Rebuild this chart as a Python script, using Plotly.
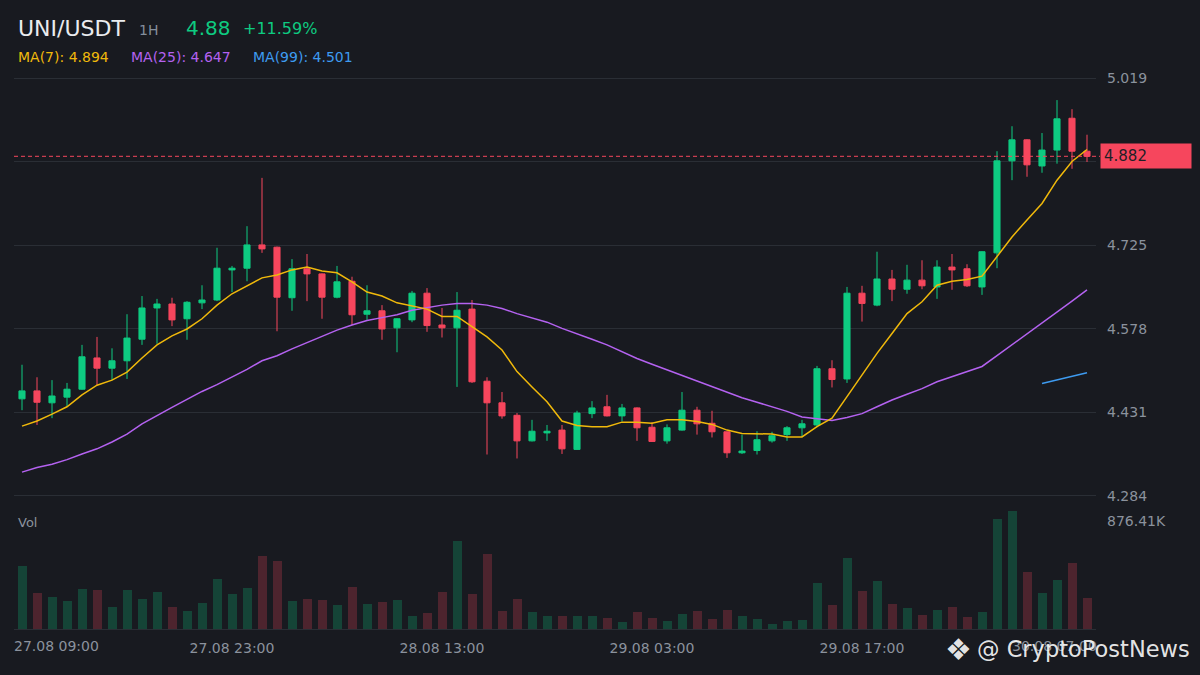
import pandas as pd
import plotly.graph_objects as go

# hourly candles, 27.08 09:00 .. 30.08 08:00
times = pd.date_range("2024-08-27 09:00", periods=72, freq="h")

opens = [4.455, 4.469, 4.448, 4.458, 4.472, 4.527, 4.509, 4.522, 4.560, 4.615,
         4.622, 4.596, 4.624, 4.629, 4.682, 4.685, 4.726, 4.722, 4.633, 4.684,
         4.675, 4.634, 4.662, 4.604, 4.610, 4.580, 4.594, 4.641, 4.585, 4.580,
         4.613, 4.486, 4.448, 4.426, 4.381, 4.395, 4.400, 4.366, 4.429, 4.441,
         4.425, 4.439, 4.405, 4.381, 4.400, 4.435, 4.412, 4.397, 4.360, 4.364,
         4.381, 4.392, 4.404, 4.409, 4.508, 4.490, 4.641, 4.620, 4.666, 4.648,
         4.664, 4.652, 4.687, 4.684, 4.652, 4.712, 4.874, 4.911, 4.865, 4.893,
         4.949, 4.891]
highs = [4.515, 4.493, 4.488, 4.483, 4.550, 4.564, 4.544, 4.604, 4.636, 4.631,
         4.633, 4.627, 4.655, 4.721, 4.689, 4.759, 4.844, 4.723, 4.701, 4.710,
         4.676, 4.689, 4.670, 4.655, 4.620, 4.597, 4.645, 4.650, 4.615, 4.643,
         4.629, 4.493, 4.467, 4.430, 4.418, 4.409, 4.409, 4.434, 4.451, 4.462,
         4.446, 4.440, 4.414, 4.410, 4.467, 4.441, 4.434, 4.397, 4.392, 4.398,
         4.397, 4.407, 4.418, 4.513, 4.523, 4.652, 4.654, 4.714, 4.682, 4.691,
         4.699, 4.699, 4.710, 4.692, 4.715, 4.891, 4.935, 4.912, 4.923, 4.981,
         4.965, 4.920]
lows = [4.435, 4.409, 4.421, 4.442, 4.471, 4.479, 4.488, 4.490, 4.550, 4.552,
        4.583, 4.559, 4.613, 4.627, 4.643, 4.662, 4.712, 4.574, 4.610, 4.627,
        4.596, 4.632, 4.585, 4.594, 4.559, 4.537, 4.590, 4.573, 4.563, 4.476,
        4.483, 4.357, 4.420, 4.350, 4.380, 4.381, 4.358, 4.365, 4.421, 4.424,
        4.415, 4.381, 4.379, 4.376, 4.399, 4.392, 4.387, 4.351, 4.358, 4.357,
        4.378, 4.381, 4.388, 4.405, 4.475, 4.483, 4.591, 4.618, 4.627, 4.640,
        4.648, 4.631, 4.647, 4.652, 4.638, 4.685, 4.840, 4.846, 4.853, 4.869,
        4.860, 4.872]
closes = [4.469, 4.449, 4.460, 4.472, 4.529, 4.509, 4.522, 4.562, 4.615, 4.622,
          4.594, 4.625, 4.629, 4.685, 4.685, 4.726, 4.719, 4.634, 4.684, 4.675,
          4.634, 4.661, 4.603, 4.610, 4.578, 4.596, 4.641, 4.584, 4.580, 4.611,
          4.485, 4.448, 4.425, 4.381, 4.398, 4.398, 4.367, 4.430, 4.439, 4.425,
          4.439, 4.404, 4.380, 4.404, 4.435, 4.411, 4.397, 4.360, 4.363, 4.383,
          4.390, 4.404, 4.411, 4.508, 4.489, 4.641, 4.623, 4.666, 4.648, 4.664,
          4.654, 4.687, 4.682, 4.654, 4.714, 4.874, 4.911, 4.867, 4.893, 4.948,
          4.891, 4.882]

ma7 = [4.407, 4.416, 4.428, 4.441, 4.462, 4.479, 4.488, 4.502, 4.527, 4.550,
       4.566, 4.578, 4.596, 4.620, 4.640, 4.654, 4.668, 4.673, 4.682, 4.687,
       4.680, 4.677, 4.661, 4.643, 4.636, 4.624, 4.619, 4.613, 4.600, 4.600,
       4.582, 4.564, 4.541, 4.503, 4.476, 4.450, 4.416, 4.408, 4.406, 4.406,
       4.414, 4.414, 4.412, 4.418, 4.418, 4.415, 4.410, 4.400, 4.394, 4.394,
       4.393, 4.388, 4.388, 4.406, 4.421, 4.459, 4.497, 4.535, 4.570, 4.605,
       4.626, 4.655, 4.662, 4.665, 4.671, 4.705, 4.740, 4.770, 4.799, 4.840,
       4.873, 4.894]
ma25 = [4.326, 4.334, 4.340, 4.348, 4.358, 4.367, 4.379, 4.393, 4.411, 4.426,
        4.440, 4.454, 4.468, 4.480, 4.493, 4.507, 4.522, 4.531, 4.543, 4.554,
        4.566, 4.576, 4.585, 4.593, 4.598, 4.603, 4.611, 4.616, 4.620, 4.623,
        4.623, 4.620, 4.614, 4.605, 4.597, 4.590, 4.579, 4.570, 4.560, 4.550,
        4.538, 4.526, 4.516, 4.506, 4.496, 4.486, 4.476, 4.466, 4.457, 4.449,
        4.441, 4.433, 4.423, 4.420, 4.417, 4.422, 4.429, 4.441, 4.453, 4.463,
        4.473, 4.485, 4.494, 4.502, 4.512, 4.531, 4.550, 4.570, 4.589, 4.608,
        4.627, 4.647]
ma99 = [None] * 68 + [4.482, 4.488, 4.495, 4.501]

volumes = [510, 291, 259, 227, 324, 316, 178, 316, 243, 299,
           178, 146, 210, 405, 283, 332, 591, 550, 227, 243,
           235, 194, 340, 202, 218, 235, 105, 129, 299, 712,
           283, 607, 146, 243, 138, 105, 105, 105, 105, 89,
           57, 138, 89, 65, 121, 146, 81, 154, 105, 81,
           40, 65, 73, 372, 194, 574, 307, 388, 202, 170,
           113, 154, 178, 97, 138, 890, 955, 461, 291, 396,
           534, 251]  # thousands
volumes = [v * 1000 for v in volumes]

price_ticks = [4.284, 4.431, 4.578, 4.725, 4.872, 5.019]
vol_tick = 876410
last_price = 4.882

BG = "#181a20"
GREEN = "#0ecb81"
RED = "#f6465d"
C_MA7 = "#f0b90b"
C_MA25 = "#b462f0"
C_MA99 = "#3e9bf0"
GREY = "#8b929d"
FONT = "DejaVu Sans"

vol_colors = ["rgba(14,203,129,0.24)" if c >= o else "rgba(246,70,93,0.24)"
              for o, c in zip(opens, closes)]

hour = pd.Timedelta(hours=1)
xrange = [times[0] - 0.533 * hour, times[0] + 71.6 * hour]

fig = go.Figure()
fig.add_trace(go.Candlestick(
    x=times, open=opens, high=highs, low=lows, close=closes,
    increasing=dict(line=dict(color=GREEN, width=1), fillcolor=GREEN),
    decreasing=dict(line=dict(color=RED, width=1), fillcolor=RED),
    whiskerwidth=0, showlegend=False, hoverinfo="skip"))
for ys, col in [(ma25, C_MA25), (ma7, C_MA7), (ma99, C_MA99)]:
    fig.add_trace(go.Scatter(x=times, y=ys, mode="lines",
                             line=dict(color=col, width=1.5),
                             showlegend=False, hoverinfo="skip"))
fig.add_trace(go.Bar(x=times, y=volumes, marker=dict(color=vol_colors, line_width=0),
                     width=0.6 * 3600 * 1000, xaxis="x2", yaxis="y2",
                     showlegend=False, hoverinfo="skip"))

# pixel helpers for the overlay text
L, R, T, B = 14, 1096, 66, 629
def px(X):
    return (X - L) / (R - L)
def py(Y):
    return (B - Y) / (B - T)

fig.add_shape(type="line", xref="paper", yref="y", x0=0, x1=px(1100),
              y0=last_price, y1=last_price, line=dict(color=RED, width=1, dash="4px,3px"))

ann = []
def txt(X, Y, s, size, color, anchor="left"):
    ann.append(dict(x=px(X), y=py(Y), xref="paper", yref="paper", text=s, showarrow=False,
                    xanchor=anchor, yanchor="middle", font=dict(family=FONT, size=size, color=color)))

txt(16, 28, "UNI/USDT", 22, "#eaecef")
txt(137, 30, "1H", 14, "#848e9c")
txt(184, 28, "4.88", 20, GREEN)
txt(241, 29, "+11.59%", 16, GREEN)
txt(16, 57, "MA(7): 4.894", 14, C_MA7)
txt(129, 57, "MA(25): 4.647", 14, C_MA25)
txt(251, 57, "MA(99): 4.501", 14, C_MA99)
txt(16, 522, "Vol", 13, GREY)
txt(12, 646, times[0].strftime("%d.%m %H:%M"), 14, GREY)
txt(1099, 646, times[70].strftime("%d.%m %H:%M"), 14, GREY, anchor="right")
# watermark drawn over the last date label, as in the source image
txt(958, 649, "❖", 30, "rgba(255,255,255,0.9)", anchor="center")
txt(975, 649, "@ CryptoPostNews", 22.5, "rgba(255,255,255,0.9)")

ann.append(dict(x=px(1100), y=last_price, xref="paper", yref="y", text="4.882",
                showarrow=False, xanchor="left", yanchor="middle", align="left",
                bgcolor=RED, width=84, height=18, borderpad=3,
                font=dict(family=FONT, size=15, color="#1e2026")))

fig.update_layout(
    width=1200, height=675,
    margin=dict(l=L, r=1200 - R, t=T, b=675 - B),
    paper_bgcolor=BG, plot_bgcolor=BG,
    font=dict(family=FONT, size=14, color=GREY),
    boxgap=0.42,
    bargap=0,
    showlegend=False,
    annotations=ann,
    xaxis=dict(domain=[0, 1], anchor="y", range=xrange, type="date",
               rangeslider=dict(visible=False), showticklabels=False,
               showgrid=False, zeroline=False),
    yaxis=dict(domain=[(B - 505) / (B - T), 1], anchor="x", side="right",
               range=[4.2681, 5.0410], tickvals=price_ticks,
               # the 4.872 label sits under the last-price box
               ticktext=["" if v == 4.872 else f"{v:.3f}" for v in price_ticks],
               gridcolor="#2a2e35", gridwidth=1, zeroline=False,
               ticks="", ticklabelstandoff=10, tickfont=dict(size=14, color=GREY)),
    xaxis2=dict(domain=[0, 1], anchor="y2", range=xrange, type="date", matches="x",
                tickvals=[times[14], times[28], times[42], times[56]],
                tickformat="%d.%m %H:%M", showgrid=False, zeroline=False,
                showline=True, linecolor="#2a2e35", linewidth=1,
                ticks="", ticklabelstandoff=6, tickfont=dict(size=14, color=GREY)),
    yaxis2=dict(domain=[0, (B - 508) / (B - T)], anchor="x2", side="right",
                range=[0, 982000], tickvals=[vol_tick], ticktext=["876.41K"],
                showgrid=False, zeroline=False, ticks="", ticklabelstandoff=10,
                tickfont=dict(size=14, color=GREY)),
)

fig.write_html("out.html", config={"displayModeBar": False},
               post_script="document.body.style.margin='0';")
